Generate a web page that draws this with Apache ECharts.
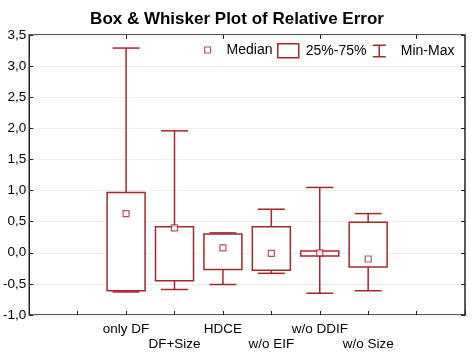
<!DOCTYPE html>
<html>
<head>
<meta charset="utf-8">
<script src="https://cdn.jsdelivr.net/npm/echarts@6/dist/echarts.min.js"></script>
<style>html,body{margin:0;padding:0;background:#fff;}#c{width:474px;height:358px;}</style>
</head>
<body>
<div id="c"></div>
<script>
var categories = ['only DF', 'DF+Size', 'HDCE', 'w/o EIF', 'w/o DDIF', 'w/o Size'];
var minVals    = [-0.63, -0.59, -0.51, -0.33, -0.65, -0.61];
var q1Vals     = [-0.61, -0.45, -0.27, -0.28, -0.05, -0.23];
var medianVals = [0.63, 0.40, 0.08, -0.01, 0.00, -0.10];
var q3Vals     = [0.97, 0.42, 0.30, 0.42, 0.03, 0.49];
var maxVals    = [3.29, 1.96, 0.32, 0.70, 1.05, 0.63];
var yTicks = [-1.0, -0.5, 0.0, 0.5, 1.0, 1.5, 2.0, 2.5, 3.0, 3.5];

var RED = '#a3282c';
var axisCats = ['', ''].concat(categories).concat(['', '']);

var chart = echarts.init(document.getElementById('c'), null, {renderer: 'canvas'});

var whiskerData = categories.map(function (c, i) { return [c, minVals[i], q1Vals[i], q3Vals[i], maxVals[i]]; });
var boxData = categories.map(function (c, i) { return [c, q1Vals[i], q3Vals[i]]; });
var medData = categories.map(function (c, i) { return [c, medianVals[i]]; });

var option = {
  animation: false,
  backgroundColor: '#fff',
  title: {
    text: 'Box & Whisker Plot of Relative Error',
    left: 'center', top: 6,
    textStyle: {fontFamily: 'Liberation Sans, Arial', fontSize: 17, fontWeight: 'bold', color: '#000'}
  },
  grid: {left: 28, right: 9, top: 35, bottom: 43, show: true, borderColor: '#222', borderWidth: 1.5},
  legend: [
    {data: [{name: 'Median', icon: 'rect', itemStyle: {color: '#fff', borderColor: RED, borderWidth: 1.2}}],
     left: 204, top: 43, padding: 0, itemWidth: 6, itemHeight: 6, selectedMode: false,
     textStyle: {fontFamily: 'Liberation Sans, Arial', fontSize: 14, color: '#000', padding: [0, 0, 0, 11]}},
    {data: [{name: '25%-75%', icon: 'rect', itemStyle: {color: '#fff', borderColor: RED, borderWidth: 1.5}}],
     left: 277, top: 43, padding: 0, itemWidth: 21, itemHeight: 14, selectedMode: false,
     textStyle: {fontFamily: 'Liberation Sans, Arial', fontSize: 14, color: '#000', padding: [0, 0, 0, 2]}},
    {data: [{name: 'Min-Max', icon: 'path://M0,0 L20,0 M10,0 L10,18 M0,18 L20,18', itemStyle: {color: 'transparent', borderColor: RED, borderWidth: 1.5}}],
     left: 372, top: 44, padding: 0, itemWidth: 13, itemHeight: 12, selectedMode: false,
     textStyle: {fontFamily: 'Liberation Sans, Arial', fontSize: 14, color: '#000', padding: [0, 0, 0, 10]}}
  ],
  xAxis: [
    {type: 'category', data: axisCats, boundaryGap: false, position: 'bottom',
     axisLine: {show: false, onZero: false},
     axisTick: {show: true, inside: true, length: 4, lineStyle: {color: '#222'}},
     axisLabel: {interval: 0, fontFamily: 'Liberation Sans, Arial', fontSize: 13.5, color: '#000', margin: 7, lineHeight: 15,
       formatter: function (v) {
         var k = categories.indexOf(v);
         if (k < 0) return '';
         return (k % 2 === 1) ? '\n' + v : v + '\n';
       }},
     splitLine: {show: false}},
    {type: 'category', data: axisCats, boundaryGap: false, position: 'top',
     axisLine: {show: false, onZero: false},
     axisTick: {show: true, inside: true, length: 4, lineStyle: {color: '#222'}},
     axisLabel: {show: false}, splitLine: {show: false}}
  ],
  yAxis: [
    {type: 'value', min: yTicks[0], max: yTicks[yTicks.length - 1], interval: 0.5,
     axisLine: {show: false, onZero: false},
     axisTick: {show: true, inside: true, length: 4, lineStyle: {color: '#222'}},
     axisLabel: {fontFamily: 'Liberation Sans, Arial', fontSize: 13.5, color: '#000', margin: 3,
       formatter: function (v) { return v.toFixed(1).replace('.', ','); }},
     splitLine: {show: true, lineStyle: {color: '#ececec', width: 1}}},
    {type: 'value', min: yTicks[0], max: yTicks[yTicks.length - 1], interval: 0.5, position: 'right',
     axisLine: {show: false, onZero: false},
     axisTick: {show: true, inside: true, length: 4, lineStyle: {color: '#222'}},
     axisLabel: {show: false}, splitLine: {show: false}}
  ],
  series: [
    {name: 'Min-Max', type: 'custom', data: whiskerData,
     itemStyle: {color: RED},
     renderItem: function (params, api) {
       var c = api.value(0);
       var pMin = api.coord([c, api.value(1)]);
       var pQ1 = api.coord([c, api.value(2)]);
       var pQ3 = api.coord([c, api.value(3)]);
       var pMax = api.coord([c, api.value(4)]);
       var cap = 13.5;
       var st = {stroke: RED, lineWidth: 1.5, fill: null};
       return {type: 'group', children: [
         {type: 'line', shape: {x1: pMax[0], y1: pMax[1], x2: pQ3[0], y2: pQ3[1]}, style: st},
         {type: 'line', shape: {x1: pMin[0], y1: pMin[1], x2: pQ1[0], y2: pQ1[1]}, style: st},
         {type: 'line', shape: {x1: pMax[0] - cap, y1: pMax[1], x2: pMax[0] + cap, y2: pMax[1]}, style: st},
         {type: 'line', shape: {x1: pMin[0] - cap, y1: pMin[1], x2: pMin[0] + cap, y2: pMin[1]}, style: st}
       ]};
     }},
    {name: '25%-75%', type: 'custom', data: boxData,
     itemStyle: {color: '#fff', borderColor: RED},
     renderItem: function (params, api) {
       var c = api.value(0);
       var pQ1 = api.coord([c, api.value(1)]);
       var pQ3 = api.coord([c, api.value(2)]);
       var w = 38;
       return {type: 'rect', shape: {x: pQ1[0] - w / 2, y: pQ3[1], width: w, height: pQ1[1] - pQ3[1]},
               style: {fill: '#fff', stroke: RED, lineWidth: 1.5}};
     }},
    {name: 'Median', type: 'scatter', data: medData, symbol: 'rect', symbolSize: 6,
     itemStyle: {color: '#fff', borderColor: RED, borderWidth: 1.2}, z: 5}
  ]
};
chart.setOption(option);
</script>
</body>
</html>
